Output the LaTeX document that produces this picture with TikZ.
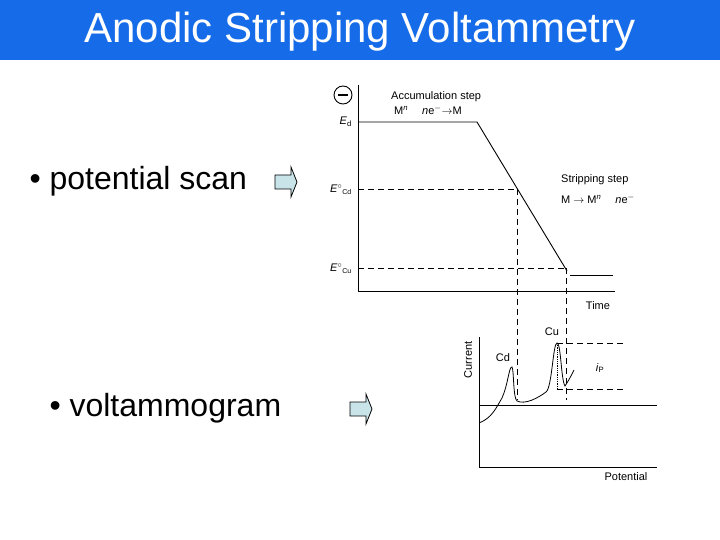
\documentclass[tikz,border=0pt]{standalone}
\usepackage{fontspec}
\setmainfont{Liberation Sans}
\definecolor{titleblue}{RGB}{22,108,232}
\definecolor{arrowfill}{RGB}{200,228,232}
\tikzset{
  axis/.style={line width=0.9pt},
  guide/.style={line width=0.8pt, dash pattern=on 6pt off 4pt},
  lbl/.style={font=\fontsize{11}{12}\selectfont, inner sep=1pt},
  blockarrow/.style={draw, line width=0.8pt, fill=arrowfill},
}
\newcommand{\bigarrow}[1]{%
  \draw[blockarrow] (#1) ++(-11,-7) -- ++(16,0) -- ++(0,-8) -- ++(6,15)
    -- ++(-6,15) -- ++(0,-8) -- ++(-16,0) -- cycle;}
\begin{document}
\begin{tikzpicture}[x=1pt,y=-1pt]
  \useasboundingbox (0,0) rectangle (720,540);
  % Title bar
  \fill[titleblue] (0,0) rectangle (720,60);
  \node[text=white, font=\fontsize{42}{46}\selectfont] (title) at (360,32) {Anodic Stripping Voltammetry};

  % Bullets and arrows
  \node[anchor=west, font=\fontsize{32}{34}\selectfont] (scan) at (26,181) {\textbullet\ potential scan};
  \node[anchor=west, font=\fontsize{32}{34}\selectfont] (vgram) at (46,408) {\textbullet\ voltammogram};
  \coordinate (arrA) at (286,182);
  \coordinate (arrB) at (361,409);
  \bigarrow{arrA}
  \bigarrow{arrB}

  % Potential scan plot
  \draw[line width=0.9pt] (343,95) circle (9);
  \draw[line width=1.2pt] (338,95) -- (348,95);
  \draw[axis] (358,85) -- (358,291) -- (615,291);
  \draw[axis] (358,122) -- (477,122) -- (567,271);
  \draw[axis] (570,275) -- (613,275);
  \draw[guide] (358,189) -- (517,189);
  \draw[guide] (358,268) -- (567,268);
  \draw[guide] (517,189) -- (517,400);
  \draw[guide] (566,268) -- (566,400);
  \node[lbl, anchor=east] (Ed) at (353,122) {\textit{E}\textsubscript{d}};
  \node[lbl, anchor=east] (ECd) at (353,190) {\textit{E}$^{\circ}$\textsubscript{\scriptsize Cd}};
  \node[lbl, anchor=east] (ECu) at (353,269) {\textit{E}$^{\circ}$\textsubscript{\scriptsize Cu}};
  \node[lbl, anchor=west] (accum) at (390,97) {Accumulation step};
  \node[lbl, anchor=west] (accumeq) at (393,110) {M\textsuperscript{\textit{n}}\quad\ \textit{n}e\textsuperscript{$-$}$\rightarrow$M};
  \node[lbl, anchor=west] (strip) at (560,180) {Stripping step};
  \node[lbl, anchor=west] (stripeq) at (560,199) {M $\rightarrow$ M\textsuperscript{\textit{n}}\quad\ \textit{n}e\textsuperscript{$-$}};
  \node[lbl] (time) at (598,306) {Time};

  % Voltammogram
  \draw[axis] (479,337) -- (479,467) -- (657,467);
  \draw[axis] (479,405) -- (657,405);
  \draw[line width=0.8pt] (479,423) .. controls (492,418) and (496,408) .. (502,398)
    .. controls (508,385) and (509,366) .. (512,367)
    .. controls (514,370) and (513,398) .. (517,401)
    .. controls (525,405) and (538,398) .. (546,392)
    .. controls (552,388) and (553,343) .. (557,343)
    .. controls (561,343) and (561,380) .. (565,386)
    .. controls (569,380) and (571,376) .. (574,370);
  \draw[guide] (557,343) -- (625,343);
  \draw[guide] (557,389) -- (625,389);
  \draw[line width=0.8pt, densely dotted] (557,343) -- (557,389);
  \node[lbl, rotate=90] (current) at (468,360) {Current};
  \node[lbl] (potential) at (626,477) {Potential};
  \node[lbl] (cd) at (503,358) {Cd};
  \node[lbl] (cu) at (552,332) {Cu};
  \node[lbl] (ip) at (600,368) {\textit{i}\textsubscript{P}};
\end{tikzpicture}
\end{document}
